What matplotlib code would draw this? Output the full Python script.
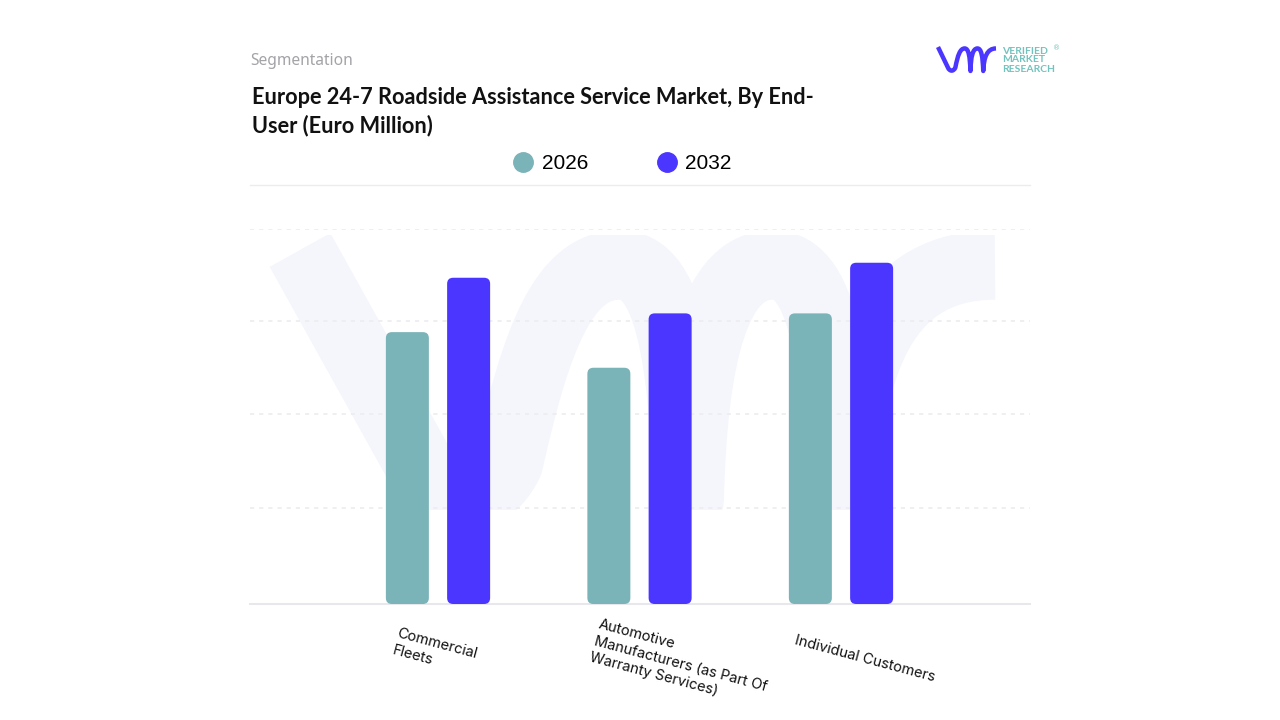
"""Europe roadside assistance market, grouped bars by end-user."""
import matplotlib
matplotlib.use("Agg")
import matplotlib.pyplot as plt
from matplotlib.lines import Line2D
from matplotlib.patches import FancyBboxPatch, PathPatch, Rectangle
from matplotlib.path import Path
from matplotlib.transforms import Affine2D

categories = ["Commercial\nFleets",
              "Automotive\nManufacturers (as Part Of\nWarranty Services)",
              "Individual Customers"]
values_2026 = [72.5, 63, 77.5]
values_2032 = [87, 77.5, 91]
grid_ticks = [0, 25.6, 50.7, 75.5, 100]

TEAL = "#7ab3b8"
BLUE = "#4b36ff"
W, H = 1280, 720


def vmr_path(x0, y0, w, h):
    """The vmr logo as one stroke, scaled into a pixel box."""
    verts = [(0.0, 0.0), (0.17, 0.85),
             (0.20, 1.03), (0.27, 1.03), (0.30, 0.85),
             (0.34, 0.35), (0.38, 0.06), (0.46, 0.06),
             (0.53, 0.06), (0.55, 0.4), (0.56, 1.0),
             (0.565, 0.4), (0.60, 0.06), (0.68, 0.06),
             (0.75, 0.06), (0.77, 0.4), (0.78, 1.0),
             (0.79, 0.4), (0.85, 0.06), (1.0, 0.06)]
    codes = [Path.MOVETO, Path.LINETO] + [Path.CURVE4] * 18
    return Path([(x0 + x * w, y0 + y * h) for x, y in verts], codes)


fig = plt.figure(figsize=(W / 100, H / 100), dpi=100, facecolor="white")

# page layer in pixel coordinates: watermark, logo, titles
bg = fig.add_axes([0, 0, 1, 1], zorder=0)
bg.set_xlim(0, W)
bg.set_ylim(H, 0)
bg.axis("off")
mark = PathPatch(vmr_path(300, 250, 695, 250), fill=False, ec="#f5f6fc",
                 lw=50, capstyle="butt", joinstyle="round")
bg.add_patch(mark)
mark.set_clip_path(Rectangle((250, 235), 780, 275, transform=bg.transData))
bg.add_patch(PathPatch(vmr_path(938, 47, 58, 24), fill=False, ec=BLUE,
                       lw=3.2, capstyle="butt", joinstyle="round"))
for y, word in zip([51, 60, 69], ["VERIFIED", "MARKET", "RESEARCH"]):
    bg.text(1002, y, word, color="#72c2bd", fontsize=7.5, family="Lato",
            fontweight="bold", va="center", ha="left")
bg.text(1057, 48, "®", color="#72c2bd", fontsize=5, va="center", ha="center")
bg.text(250, 61, "Segmentation", color="#a3a3a8", fontsize=11.2, family="Noto Sans",
        va="center", ha="left")
bg.text(252, 97, "Europe 24-7 Roadside Assistance Service Market, By End-",
        color="#111111", fontsize=15.7, family="Lato", fontweight="bold",
        va="center", ha="left")
bg.text(252, 126, "User (Euro Million)", color="#111111", fontsize=15.7,
        family="Lato", fontweight="bold", va="center", ha="left")
bg.plot([250, 1030], [185, 185], color="#ececf0", lw=1)

# chart
ax = fig.add_axes([250 / W, (H - 604) / H, 780 / W, 375 / H], zorder=1)
ax.patch.set_visible(False)
ax.set_xlim(-0.933, 2.938)
ax.set_ylim(0, 100)

bar_w = 0.2134
offset = 0.152
xs = list(range(len(categories)))
bars_a = ax.bar([x - offset for x in xs], values_2026, bar_w, color=TEAL, zorder=3)
bars_b = ax.bar([x + offset for x in xs], values_2032, bar_w, color=BLUE, zorder=3)

# swap the square bars for rounded ones of the same size
for rect in list(bars_a) + list(bars_b):
    rect.set_visible(False)
    ax.add_patch(FancyBboxPatch((rect.get_x(), 0), rect.get_width(), rect.get_height(),
                                boxstyle="round,pad=0,rounding_size=0.03",
                                mutation_aspect=53.7, fc=rect.get_facecolor(),
                                ec="none", zorder=3))

ax.set_yticks(grid_ticks)
ax.set_yticklabels([])
ax.tick_params(length=0)
ax.grid(axis="y", color="#ececf0", lw=1.2, ls=(0, (2.5, 3)), zorder=1)
for side in ["top", "right", "left"]:
    ax.spines[side].set_visible(False)
ax.spines["bottom"].set_color("#e8e8ec")
ax.spines["bottom"].set_linewidth(1.5)

ax.set_xticks(xs)
ax.set_xticklabels(categories, family="Inter", fontsize=10.5, color="#111111",
                   linespacing=1.25)
label_shift = [(-39, -18), (-39, -9), (-44, -25)]
for tick, (dx, dy) in zip(ax.get_xticklabels(), label_shift):
    tick.set(ha="left", va="top", rotation=-15, rotation_mode="anchor")
    tick.set_transform(tick.get_transform() + Affine2D().translate(dx, dy))

handles = [Line2D([], [], ls="", marker="o", ms=14, color=TEAL, label="2026"),
           Line2D([], [], ls="", marker="o", ms=14, color=BLUE, label="2032")]
ax.legend(handles=handles, ncol=2, frameon=False, loc="center",
          bbox_to_anchor=(621 / W, (H - 163.5) / H), bbox_transform=fig.transFigure,
          prop={"family": "Liberation Sans", "size": 15}, handlelength=1.2,
          handletextpad=0.3, columnspacing=3.17, borderpad=0)

fig.savefig("out.png", dpi=100)
